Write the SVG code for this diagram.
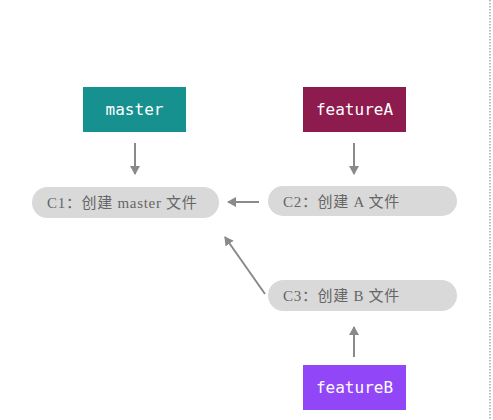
<svg xmlns="http://www.w3.org/2000/svg" width="493" height="420" viewBox="0 0 493 420">
<style>
.br text{font-family:"DejaVu Sans Mono","Liberation Mono",monospace;font-size:16px;fill:#ffffff;text-anchor:middle}
.cm rect{fill:#d9d9d9}
.cm text{font-family:"Liberation Serif","Noto Sans CJK SC",serif;font-size:15px;letter-spacing:0.7px;fill:#666666}
.cn line{stroke:#8a8a8a;stroke-width:2;marker-end:url(#ah)}
</style>
<defs>
<marker id="ah" markerWidth="10" markerHeight="10" refX="8" refY="5" orient="auto" markerUnits="userSpaceOnUse">
<path d="M0,0 L9,5 L0,10 Z" fill="#8a8a8a"/>
</marker>
</defs>
<rect width="493" height="420" fill="#ffffff"/>
<line x1="490" y1="0" x2="490" y2="420" stroke="#aaaaaa" stroke-width="1.5" stroke-dasharray="1.5,1.5"/>
<g id="master" class="br"><rect x="83" y="87" width="103" height="45" fill="#17918f"/><text x="134.5" y="115">master</text></g>
<g id="featureA" class="br"><rect x="303" y="87" width="103" height="45" fill="#8e1b4d"/><text x="354.5" y="115">featureA</text></g>
<g id="featureB" class="br"><rect x="303" y="365" width="103" height="45" fill="#9146f8"/><text x="354.5" y="393">featureB</text></g>
<g id="c1" class="cm"><rect x="32" y="187" width="187" height="31" rx="15.5"/><text x="47" y="208">C1：创建 master 文件</text></g>
<g id="c2" class="cm"><rect x="268" y="186" width="189" height="30" rx="15"/><text x="283" y="206.5">C2：创建 A 文件</text></g>
<g id="c3" class="cm"><rect x="268" y="280" width="189" height="31" rx="15.5"/><text x="283" y="301">C3：创建 B 文件</text></g>
<g id="connectors" class="cn">
<line x1="135" y1="143" x2="135" y2="174"/>
<line x1="354" y1="143" x2="354" y2="174"/>
<line x1="259" y1="202" x2="228" y2="202"/>
<line x1="265" y1="294" x2="225" y2="237"/>
<line x1="354" y1="357" x2="354" y2="327"/>
</g>
</svg>
